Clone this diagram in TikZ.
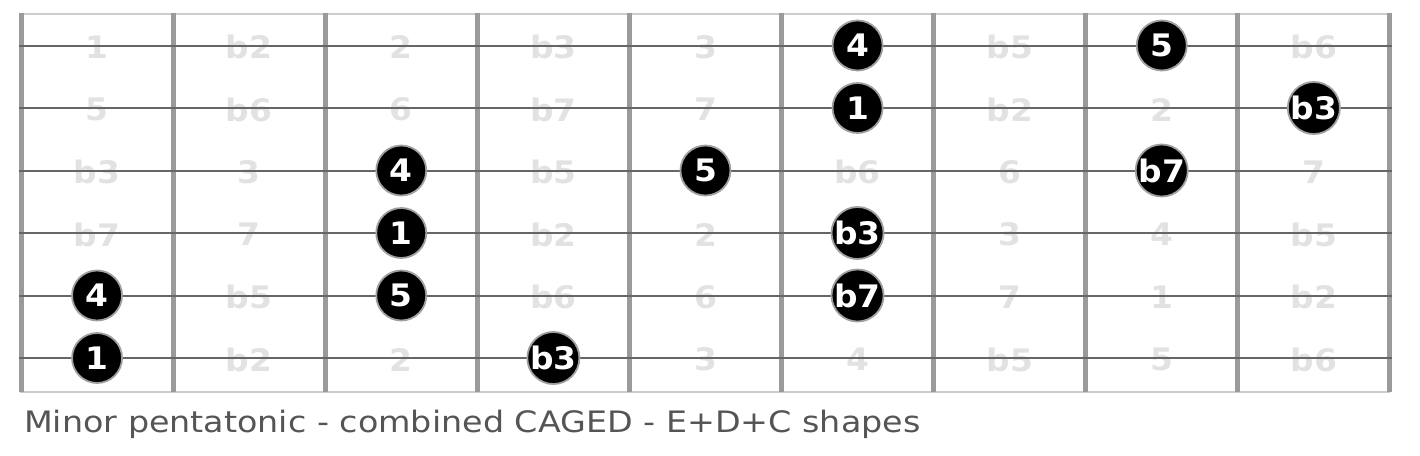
\documentclass[tikz,border=0pt]{standalone}
\usepackage{fontspec}
\setmainfont{DejaVu Sans}
\newfontfamily\captionfont[FakeStretch=1.13]{DejaVu Sans}
\newfontfamily\labelfont[FakeStretch=1.06]{DejaVu Sans Bold}
\definecolor{ghost}{HTML}{E2E2E2}
\definecolor{fretgray}{HTML}{9A9A9A}
\definecolor{stringgray}{HTML}{666666}
\definecolor{bordergray}{HTML}{CCCCCC}
\definecolor{dotrim}{HTML}{A0A0A0}
\definecolor{captiongray}{HTML}{555555}
\begin{document}
\begin{tikzpicture}[x=1pt,y=-1pt,
  bglabel/.style={text=ghost, font=\labelfont\fontsize{31}{31}\selectfont, inner sep=0pt},
  notedot/.style={circle, fill=black, draw=dotrim, line width=1.8pt, minimum size=50pt, inner sep=0pt, text=white, font=\labelfont\fontsize{31}{31}\selectfont},
  fretline/.style={draw=fretgray, line width=5pt},
  stringline/.style={draw=stringgray, line width=2pt},
  borderline/.style={draw=bordergray, line width=2pt},
  captiontext/.style={text=captiongray, font=\captionfont\fontsize{29.5}{29.5}\selectfont, inner sep=0pt, anchor=base west}
]
\useasboundingbox (0,0) rectangle (1420,455);
% background interval labels
\foreach \row [count=\s] in {{1,b2,2,b3,3,4,b5,5,b6},{5,b6,6,b7,7,1,b2,2,b3},{b3,3,4,b5,5,b6,6,b7,7},{b7,7,1,b2,2,b3,3,4,b5},{4,b5,5,b6,6,b7,7,1,b2},{1,b2,2,b3,3,4,b5,5,b6}}{
  \foreach \lab [count=\i from 0] in \row {
    \node[bglabel] (bg-\s-\i) at ({21+152.1*(\i+0.5)},{45.5+62.5*(\s-1)+1.5}) {\lab};
  }
}
% border lines
\coordinate (tl) at (20,14);
\coordinate (tr) at (1390,14);
\coordinate (bl) at (20,392);
\coordinate (br) at (1390,392);
\draw[borderline] (tl) -- (tr);
\draw[borderline] (bl) -- (br);
% frets
\foreach \f in {0,...,9}{
  \coordinate (ft-\f) at ({21+152.1*\f},13);
  \coordinate (fb-\f) at ({21+152.1*\f},392);
  \draw[fretline] (ft-\f) -- (fb-\f);
}
% strings
\foreach \s in {1,...,6}{
  \coordinate (sl-\s) at (19,{45.5+62.5*(\s-1)});
  \coordinate (sr-\s) at (1392,{45.5+62.5*(\s-1)});
  \draw[stringline] (sl-\s) -- (sr-\s);
}
% note dots
\foreach \c/\s/\lab in {5/1/4,7/1/5,5/2/1,8/2/b3,2/3/4,4/3/5,7/3/b7,2/4/1,5/4/b3,0/5/4,2/5/5,5/5/b7,0/6/1,3/6/b3}{
  \node[notedot] (dot-\s-\c) at ({21+152.1*(\c+0.5)},{45.5+62.5*(\s-1)}) {\lab};
}
\node[captiontext] (caption) at (24,432) {Minor pentatonic - combined CAGED - E+D+C shapes};
\end{tikzpicture}
\end{document}
